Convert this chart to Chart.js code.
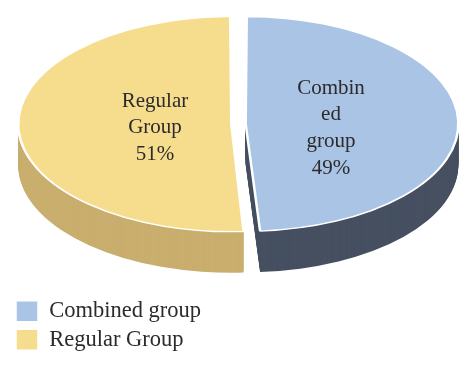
<!DOCTYPE html>
<html>
<head>
<meta charset="utf-8">
<style>
  html, body { margin: 0; padding: 0; background: #fff; }
  canvas { display: block; }
</style>
<script src="https://cdn.jsdelivr.net/npm/chart.js@4/dist/chart.umd.js"></script>
</head>
<body>
<canvas id="myChart" width="474" height="368"></canvas>
<script>
const categories = ["Combined group", "Regular Group"]
const values = [49, 51]
const sliceLabels = [["Combin", "ed", "group"], ["Regular", "Group"]]
const topColors = ["#a9c4e4", "#f6dd8e"]
const sideColors = ["#465061", "#c9ae6e"]

// where the tilted pie lands on the page
const pieX = 238.5, pieY = 124, pieRx = 206, pieRy = 104, pieDepth = 41
const labelSpots = [{x: 331, y: 88}, {x: 155, y: 101}]
const labelFont = "21px 'Liberation Serif'"

function tilt(ctx, arc) {
    ctx.translate(pieX, pieY)
    ctx.scale(pieRx / arc.outerRadius, pieRy / arc.outerRadius)
    ctx.translate(-arc.x, -arc.y)
}

// squashes the pie into an ellipse and stacks darker copies under it
const tiltedPie = {
    id: "tiltedPie",
    beforeDatasetsDraw(chart) {
        const ctx = chart.ctx
        const arcs = chart.getDatasetMeta(0).data
        for (let d = pieDepth; d > 0; d--) {
            arcs.forEach((arc, i) => {
                const opts = arc.options
                arc.options = Object.assign(Object.create(opts), {backgroundColor: sideColors[i], borderWidth: 0})
                ctx.save()
                ctx.translate(0, d)
                tilt(ctx, arc)
                arc.draw(ctx)
                ctx.restore()
                arc.options = opts
            })
        }
        ctx.save()
        tilt(ctx, arcs[0])
    },
    afterDatasetsDraw(chart) {
        const ctx = chart.ctx
        ctx.restore()
        ctx.save()
        ctx.font = labelFont
        ctx.fillStyle = "#2b2b2b"
        ctx.textAlign = "center"
        ctx.textBaseline = "middle"
        sliceLabels.forEach((lines, i) => {
            const all = lines.concat(values[i] + "%")
            all.forEach((line, n) => ctx.fillText(line, labelSpots[i].x, labelSpots[i].y + n * 26.7))
        })
        ctx.restore()
    }
}

var chartField = document.querySelector("#myChart").getContext("2d")

var myChart = new Chart(chartField, {
    type: "pie",
    data: {
        labels: categories,
        datasets: [{
            data: values,
            backgroundColor: topColors,
            borderColor: "#fff",
            borderWidth: 1.5,
            offset: 17,
            clip: false
        }]
    },
    options: {
        responsive: false,
        animation: false,
        rotation: 0,
        layout: { padding: { left: 10, right: 0, top: 0, bottom: 11 } },
        plugins: {
            tooltip: { enabled: false },
            legend: {
                position: "left",
                align: "end",
                labels: {
                    boxWidth: 22,
                    boxHeight: 21,
                    padding: 6,
                    color: "#2b2b2b",
                    font: { family: "'Liberation Serif'", size: 22.5 }
                }
            }
        }
    },
    plugins: [tiltedPie]
});
</script>
</body>
</html>
